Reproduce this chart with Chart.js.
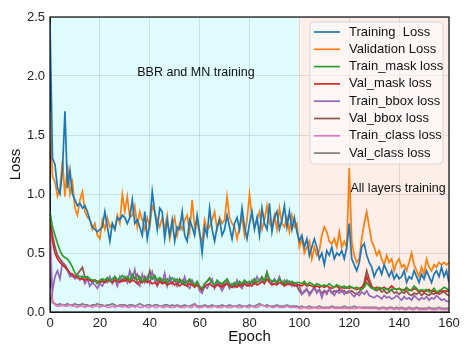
<!DOCTYPE html>
<html>
<head>
    <script src="https://cdn.jsdelivr.net/npm/chart.js@4.4.1/dist/chart.umd.min.js"></script>
    <style>
        body { margin: 0; background: #fff; }
    </style>
</head>
<body>
<canvas id="myChart" width="471" height="354" style="display:block;"></canvas>

<script>
    // epochs 0..160
    const epochs = Array.from({length: 161}, (_, i) => i);
    const xTicks = [0, 20, 40, 60, 80, 100, 120, 140, 160];
    const yTicks = [0.0, 0.5, 1.0, 1.5, 2.0, 2.5];

    const seriesNames = ["Training  Loss", "Validation Loss", "Train_mask loss", "Val_mask loss",
        "Train_bbox loss", "Val_bbox loss", "Train_class loss", "Val_class loss"];
    const seriesColors = ["#1f77b4", "#ff7f0e", "#2ca02c", "#d62728", "#9467bd", "#8c564b", "#e377c2", "#7f7f7f"];

    const trainLoss = [
        2.45, 1.30, 1.25, 1.05, 1.00, 1.20, 1.70, 1.05, 1.20, 1.00,
        0.95, 0.90, 0.92, 0.88, 0.90, 0.85, 0.78, 0.72, 0.70, 0.68,
        0.70, 0.72, 0.85, 0.72, 0.60, 0.75, 0.70, 0.80, 0.78, 0.82,
        0.80, 0.75, 0.80, 0.95, 0.75, 0.78, 0.72, 0.65, 0.85, 0.62,
        0.75, 1.02, 0.85, 0.70, 0.88, 0.85, 0.62, 0.78, 0.65, 0.78,
        0.60, 0.72, 0.70, 0.85, 0.65, 0.60, 0.78, 0.72, 0.65, 0.82,
        0.68, 0.50, 0.72, 0.65, 0.88, 0.70, 0.60, 0.72, 0.78, 0.65,
        0.70, 0.82, 0.72, 0.62, 0.75, 0.80, 0.70, 0.88, 0.72, 0.62,
        0.75, 0.85, 0.70, 0.80, 0.65, 0.88, 0.75, 0.70, 0.92, 0.68,
        0.80, 0.85, 0.70, 0.78, 0.90, 0.72, 0.85, 0.70, 0.80, 0.68,
        0.60, 0.65, 0.55, 0.62, 0.48, 0.55, 0.62, 0.55, 0.45, 0.50,
        0.40, 0.52, 0.48, 0.55, 0.45, 0.50, 0.48, 0.52, 0.45, 0.55,
        0.75, 0.45, 0.40, 0.35, 0.42, 0.55, 0.58, 0.48, 0.42, 0.38,
        0.30, 0.35, 0.38, 0.32, 0.40, 0.35, 0.30, 0.35, 0.28, 0.32,
        0.28, 0.30, 0.35, 0.25, 0.30, 0.28, 0.35, 0.30, 0.25, 0.32,
        0.28, 0.35, 0.30, 0.25, 0.32, 0.35, 0.30, 0.38, 0.30, 0.35,
        0.25
    ];
    const valLoss = [
        1.70, 1.15, 1.10, 0.98, 1.05, 1.28, 0.98, 1.25, 1.00, 1.10,
        0.88, 0.82, 0.95, 1.02, 0.85, 0.80, 0.78, 0.70, 0.75, 0.65,
        0.62, 0.78, 0.70, 0.80, 0.72, 0.75, 0.70, 0.82, 0.75, 1.00,
        0.85, 0.98, 0.80, 0.82, 0.90, 0.72, 0.85, 0.78, 0.70, 0.80,
        0.72, 0.90, 0.85, 0.78, 0.72, 0.80, 0.70, 0.82, 0.62, 0.72,
        0.80, 0.65, 0.75, 0.70, 0.78, 0.82, 0.68, 0.95, 0.72, 0.78,
        0.65, 0.60, 0.78, 0.70, 0.72, 0.78, 0.85, 0.70, 0.80, 0.75,
        0.78, 0.98, 0.80, 0.75, 0.72, 0.62, 0.72, 0.80, 0.65, 0.78,
        1.00, 0.80, 0.72, 0.78, 0.85, 0.70, 0.78, 0.90, 0.75, 0.72,
        0.82, 0.70, 0.88, 0.75, 0.72, 0.80, 0.68, 0.82, 0.72, 0.75,
        0.55, 0.62, 0.50, 0.55, 0.60, 0.45, 0.55, 0.48, 0.52, 0.65,
        0.72, 0.68, 0.60, 0.58, 0.62, 0.55, 0.68, 0.55, 0.60, 0.55,
        1.22, 0.60, 0.48, 0.42, 0.45, 0.62, 0.75, 0.85, 0.72, 0.60,
        0.55, 0.48, 0.52, 0.45, 0.40, 0.48, 0.42, 0.45, 0.35, 0.42,
        0.45, 0.38, 0.40, 0.35, 0.42, 0.50, 0.40, 0.35, 0.30, 0.38,
        0.32, 0.45, 0.38, 0.35, 0.40, 0.38, 0.42, 0.40, 0.42, 0.40,
        0.42
    ];
    const trainMask = [
        0.85, 0.72, 0.65, 0.58, 0.52, 0.48, 0.46, 0.45, 0.42, 0.38,
        0.33, 0.31, 0.30, 0.30, 0.29, 0.30, 0.28, 0.27, 0.27, 0.25,
        0.27, 0.28, 0.27, 0.29, 0.26, 0.28, 0.30, 0.27, 0.29, 0.31,
        0.28, 0.30, 0.27, 0.32, 0.29, 0.27, 0.30, 0.26, 0.28, 0.27,
        0.30, 0.28, 0.31, 0.27, 0.29, 0.26, 0.28, 0.25, 0.27, 0.29,
        0.26, 0.28, 0.25, 0.27, 0.24, 0.26, 0.28, 0.25, 0.23, 0.26,
        0.22, 0.20, 0.24, 0.26, 0.28, 0.25, 0.23, 0.27, 0.25, 0.24,
        0.26, 0.28, 0.24, 0.22, 0.25, 0.23, 0.26, 0.24, 0.27, 0.25,
        0.26, 0.24, 0.28, 0.25, 0.27, 0.29, 0.26, 0.33, 0.28, 0.26,
        0.27, 0.25, 0.28, 0.26, 0.24, 0.27, 0.25, 0.26, 0.24, 0.25,
        0.25, 0.24, 0.26, 0.23, 0.25, 0.24, 0.22, 0.24, 0.23, 0.22,
        0.23, 0.22, 0.24, 0.22, 0.21, 0.23, 0.22, 0.21, 0.22, 0.20,
        0.22, 0.21, 0.20, 0.21, 0.20, 0.19, 0.21, 0.25, 0.22, 0.20,
        0.20, 0.19, 0.21, 0.20, 0.19, 0.20, 0.18, 0.19, 0.20, 0.19,
        0.20, 0.18, 0.19, 0.21, 0.18, 0.19, 0.22, 0.20, 0.18, 0.19,
        0.18, 0.19, 0.17, 0.18, 0.20, 0.17, 0.18, 0.19, 0.21, 0.20,
        0.18
    ];
    const valMask = [
        0.78, 0.60, 0.50, 0.45, 0.42, 0.40, 0.38, 0.36, 0.33, 0.32,
        0.30, 0.29, 0.28, 0.28, 0.27, 0.28, 0.27, 0.26, 0.27, 0.26,
        0.25, 0.26, 0.25, 0.27, 0.26, 0.25, 0.27, 0.26, 0.25, 0.27,
        0.26, 0.28, 0.25, 0.27, 0.26, 0.24, 0.26, 0.25, 0.27, 0.25,
        0.26, 0.24, 0.25, 0.23, 0.26, 0.24, 0.25, 0.23, 0.24, 0.25,
        0.23, 0.24, 0.22, 0.24, 0.23, 0.22, 0.24, 0.23, 0.21, 0.23,
        0.21, 0.19, 0.22, 0.23, 0.24, 0.22, 0.21, 0.23, 0.22, 0.21,
        0.23, 0.24, 0.22, 0.21, 0.22, 0.21, 0.23, 0.22, 0.24, 0.22,
        0.23, 0.22, 0.25, 0.23, 0.24, 0.26, 0.24, 0.28, 0.25, 0.23,
        0.24, 0.23, 0.25, 0.24, 0.22, 0.24, 0.23, 0.24, 0.22, 0.23,
        0.23, 0.22, 0.24, 0.22, 0.23, 0.22, 0.21, 0.22, 0.21, 0.22,
        0.21, 0.22, 0.21, 0.20, 0.21, 0.22, 0.20, 0.21, 0.20, 0.21,
        0.20, 0.21, 0.20, 0.19, 0.20, 0.21, 0.22, 0.30, 0.24, 0.21,
        0.20, 0.21, 0.19, 0.20, 0.21, 0.19, 0.20, 0.22, 0.20, 0.19,
        0.20, 0.19, 0.18, 0.20, 0.19, 0.18, 0.20, 0.19, 0.17, 0.18,
        0.17, 0.18, 0.19, 0.17, 0.18, 0.16, 0.17, 0.18, 0.17, 0.18,
        0.17
    ];
    const trainBbox = [
        0.45, 0.18, 0.30, 0.35, 0.28, 0.42, 0.38, 0.35, 0.30, 0.32,
        0.28, 0.30, 0.27, 0.30, 0.24, 0.28, 0.22, 0.25, 0.23, 0.20,
        0.24, 0.22, 0.27, 0.25, 0.30, 0.24, 0.28, 0.22, 0.30, 0.26,
        0.30, 0.25, 0.35, 0.28, 0.36, 0.24, 0.22, 0.32, 0.25, 0.30,
        0.24, 0.34, 0.27, 0.22, 0.28, 0.25, 0.33, 0.22, 0.30, 0.24,
        0.28, 0.22, 0.26, 0.24, 0.30, 0.22, 0.20, 0.27, 0.23, 0.25,
        0.18, 0.16, 0.22, 0.20, 0.24, 0.28, 0.20, 0.25, 0.22, 0.18,
        0.22, 0.25, 0.20, 0.24, 0.21, 0.27, 0.22, 0.20, 0.26, 0.23,
        0.22, 0.27, 0.24, 0.30, 0.26, 0.28, 0.25, 0.32, 0.27, 0.24,
        0.28, 0.25, 0.30, 0.24, 0.27, 0.23, 0.26, 0.22, 0.25, 0.24,
        0.22, 0.15, 0.18, 0.20, 0.14, 0.17, 0.22, 0.16, 0.19, 0.12,
        0.18, 0.15, 0.20, 0.17, 0.14, 0.18, 0.16, 0.19, 0.15, 0.17,
        0.18, 0.15, 0.13, 0.16, 0.14, 0.17, 0.15, 0.18, 0.14, 0.13,
        0.12, 0.14, 0.13, 0.11, 0.14, 0.12, 0.13, 0.11, 0.12, 0.14,
        0.12, 0.10, 0.13, 0.11, 0.12, 0.10, 0.14, 0.12, 0.10, 0.12,
        0.11, 0.13, 0.10, 0.12, 0.11, 0.14, 0.12, 0.10, 0.11, 0.09,
        0.09
    ];
    const valBbox = [
        0.78, 0.65, 0.55, 0.48, 0.45, 0.42, 0.40, 0.36, 0.32, 0.30,
        0.30, 0.32, 0.35, 0.38, 0.30, 0.28, 0.27, 0.25, 0.27, 0.24,
        0.26, 0.28, 0.25, 0.29, 0.27, 0.25, 0.30, 0.27, 0.26, 0.28,
        0.27, 0.29, 0.26, 0.30, 0.28, 0.32, 0.27, 0.25, 0.30, 0.26,
        0.35, 0.28, 0.30, 0.26, 0.29, 0.27, 0.25, 0.28, 0.26, 0.24,
        0.27, 0.25, 0.28, 0.24, 0.26, 0.23, 0.27, 0.24, 0.22, 0.25,
        0.20, 0.18, 0.24, 0.26, 0.29, 0.25, 0.22, 0.26, 0.24, 0.22,
        0.25, 0.27, 0.23, 0.21, 0.24, 0.22, 0.25, 0.23, 0.26, 0.24,
        0.24, 0.26, 0.28, 0.25, 0.27, 0.30, 0.26, 0.34, 0.27, 0.25,
        0.27, 0.24, 0.28, 0.25, 0.23, 0.26, 0.24, 0.25, 0.23, 0.22,
        0.18, 0.15, 0.17, 0.19, 0.16, 0.18, 0.20, 0.17, 0.19, 0.16,
        0.18, 0.17, 0.19, 0.16, 0.18, 0.17, 0.19, 0.17, 0.18, 0.16,
        0.17, 0.18, 0.16, 0.15, 0.17, 0.20, 0.25, 0.35, 0.28, 0.22,
        0.19, 0.18, 0.20, 0.17, 0.18, 0.16, 0.17, 0.19, 0.16, 0.17,
        0.15, 0.17, 0.16, 0.18, 0.15, 0.14, 0.16, 0.15, 0.17, 0.14,
        0.16, 0.15, 0.14, 0.16, 0.15, 0.17, 0.15, 0.16, 0.18, 0.15,
        0.14
    ];
    const trainClass = [
        0.80, 0.10, 0.06, 0.05, 0.05, 0.06, 0.05, 0.05, 0.06, 0.05,
        0.05, 0.04, 0.05, 0.05, 0.04, 0.05, 0.05, 0.04, 0.05, 0.05,
        0.04, 0.05, 0.05, 0.04, 0.04, 0.05, 0.04, 0.05, 0.05, 0.04,
        0.05, 0.04, 0.04, 0.05, 0.04, 0.05, 0.04, 0.04, 0.05, 0.04,
        0.04, 0.05, 0.04, 0.04, 0.05, 0.04, 0.04, 0.05, 0.04, 0.04,
        0.04, 0.05, 0.04, 0.04, 0.04, 0.05, 0.04, 0.04, 0.06, 0.04,
        0.04, 0.04, 0.05, 0.04, 0.04, 0.04, 0.05, 0.04, 0.04, 0.04,
        0.05, 0.04, 0.04, 0.04, 0.05, 0.04, 0.04, 0.04, 0.05, 0.04,
        0.04, 0.05, 0.04, 0.04, 0.05, 0.06, 0.05, 0.04, 0.05, 0.04,
        0.04, 0.05, 0.04, 0.04, 0.04, 0.05, 0.04, 0.04, 0.04, 0.04,
        0.03, 0.03, 0.04, 0.03, 0.03, 0.03, 0.04, 0.03, 0.03, 0.03,
        0.03, 0.03, 0.03, 0.04, 0.03, 0.03, 0.03, 0.03, 0.03, 0.03,
        0.03, 0.03, 0.03, 0.03, 0.04, 0.03, 0.03, 0.03, 0.03, 0.03,
        0.03, 0.03, 0.02, 0.03, 0.03, 0.02, 0.03, 0.03, 0.02, 0.03,
        0.02, 0.03, 0.02, 0.02, 0.03, 0.02, 0.02, 0.03, 0.02, 0.02,
        0.02, 0.02, 0.03, 0.02, 0.02, 0.02, 0.03, 0.02, 0.02, 0.02,
        0.02
    ];
    const valClass = [
        0.20, 0.08, 0.07, 0.06, 0.07, 0.06, 0.06, 0.07, 0.06, 0.06,
        0.07, 0.06, 0.06, 0.07, 0.06, 0.06, 0.05, 0.06, 0.06, 0.07,
        0.06, 0.06, 0.05, 0.06, 0.06, 0.07, 0.06, 0.05, 0.06, 0.06,
        0.06, 0.05, 0.06, 0.06, 0.05, 0.06, 0.07, 0.06, 0.05, 0.06,
        0.06, 0.05, 0.06, 0.06, 0.05, 0.05, 0.06, 0.06, 0.05, 0.06,
        0.05, 0.06, 0.05, 0.05, 0.06, 0.05, 0.05, 0.06, 0.07, 0.05,
        0.05, 0.05, 0.06, 0.05, 0.05, 0.06, 0.05, 0.05, 0.05, 0.06,
        0.05, 0.05, 0.06, 0.05, 0.05, 0.05, 0.06, 0.05, 0.05, 0.05,
        0.06, 0.05, 0.05, 0.06, 0.07, 0.06, 0.05, 0.06, 0.05, 0.05,
        0.05, 0.06, 0.05, 0.05, 0.05, 0.06, 0.05, 0.05, 0.05, 0.05,
        0.04, 0.05, 0.04, 0.04, 0.05, 0.04, 0.04, 0.04, 0.05, 0.04,
        0.04, 0.04, 0.04, 0.05, 0.04, 0.04, 0.04, 0.04, 0.05, 0.04,
        0.04, 0.04, 0.05, 0.04, 0.04, 0.04, 0.04, 0.04, 0.04, 0.04,
        0.04, 0.04, 0.03, 0.04, 0.04, 0.03, 0.04, 0.04, 0.03, 0.04,
        0.03, 0.04, 0.03, 0.03, 0.04, 0.03, 0.03, 0.04, 0.03, 0.03,
        0.03, 0.03, 0.04, 0.03, 0.03, 0.03, 0.04, 0.03, 0.03, 0.03,
        0.03
    ];

    const phaseSplit = 100;
    const phaseLabels = ["BBR and MN training", "All layers training"];

    const seriesData = [trainLoss, valLoss, trainMask, valMask, trainBbox, valBbox, trainClass, valClass];
    const FONT = "'Liberation Sans', Arial, sans-serif";

    // shaded phases behind the grid
    const phaseBg = {
        id: 'phaseBg',
        beforeDraw(chart) {
            const {ctx, chartArea: a, scales: {x}} = chart;
            const xs = x.getPixelForValue(phaseSplit);
            ctx.save();
            ctx.fillStyle = '#dffbfc';
            ctx.fillRect(a.left, a.top, xs - a.left, a.bottom - a.top);
            ctx.fillStyle = '#fdeeea';
            ctx.fillRect(xs, a.top, a.right - xs, a.bottom - a.top);
            ctx.restore();
        }
    };

    // frame, notes and legend box on top
    const overlay = {
        id: 'overlay',
        afterDraw(chart) {
            const {ctx, chartArea: a, scales: {x, y}} = chart;
            ctx.save();
            ctx.strokeStyle = '#1a1a1a';
            ctx.lineWidth = 1.3;
            ctx.strokeRect(a.left, a.top, a.right - a.left, a.bottom - a.top);

            ctx.fillStyle = '#111';
            ctx.font = '12.5px ' + FONT;
            ctx.textBaseline = 'middle';
            ctx.fillText(phaseLabels[0], x.getPixelForValue(35), y.getPixelForValue(2.03));
            ctx.fillText(phaseLabels[1], x.getPixelForValue(120.5), y.getPixelForValue(1.05));

            // legend
            const bx = 310, by = 22, bw = 133, bh = 142;
            ctx.beginPath();
            ctx.roundRect(bx, by, bw, bh, 4);
            ctx.fillStyle = 'rgba(255,255,255,0.55)';
            ctx.fill();
            ctx.strokeStyle = '#d6d6d6';
            ctx.lineWidth = 1;
            ctx.stroke();
            ctx.font = '13px ' + FONT;
            chart.data.datasets.forEach((ds, i) => {
                const ry = by + 10 + i * 17.3;
                ctx.beginPath();
                ctx.moveTo(bx + 4, ry);
                ctx.lineTo(bx + 30, ry);
                ctx.strokeStyle = ds.borderColor;
                ctx.lineWidth = 1.7;
                ctx.stroke();
                ctx.fillStyle = '#111';
                ctx.fillText(ds.label, bx + 39, ry);
            });
            ctx.restore();
        }
    };

    new Chart("myChart", {
        type: "line",
        data: {
            labels: epochs,
            datasets: seriesNames.map((name, i) => ({
                label: name,
                data: seriesData[i],
                borderColor: seriesColors[i],
                borderWidth: 1.7,
                pointRadius: 0,
                tension: 0,
                fill: false
            }))
        },
        options: {
            responsive: false,
            animation: false,
            layout: {padding: {top: 17, right: 22, left: 0, bottom: 0}},
            plugins: {
                legend: {display: false},
                tooltip: {enabled: false}
            },
            scales: {
                x: {
                    type: 'linear',
                    min: 0, max: 160,
                    afterFit(s) { s.height = 42; },
                    afterBuildTicks(s) { s.ticks = xTicks.map(v => ({value: v})); },
                    grid: {color: 'rgba(0,0,0,0.1)', drawTicks: false},
                    border: {color: '#1a1a1a'},
                    ticks: {color: '#222', padding: 4, maxRotation: 0, font: {family: FONT, size: 13}},
                    title: {display: true, text: 'Epoch', color: '#111', padding: {top: 0, bottom: 8},
                        font: {family: FONT, size: 15}}
                },
                y: {
                    min: 0, max: 2.5,
                    afterFit(s) { s.width = 50; },
                    afterBuildTicks(s) { s.ticks = yTicks.map(v => ({value: v})); },
                    grid: {color: 'rgba(0,0,0,0.1)', drawTicks: false},
                    border: {color: '#1a1a1a'},
                    ticks: {color: '#222', padding: 5, font: {family: FONT, size: 13},
                        callback: v => v.toFixed(1)},
                    title: {display: true, text: 'Loss', color: '#111', padding: {top: 7, bottom: 0},
                        font: {family: FONT, size: 15}}
                }
            }
        },
        plugins: [phaseBg, overlay]
    });
</script>
</body>
</html>
